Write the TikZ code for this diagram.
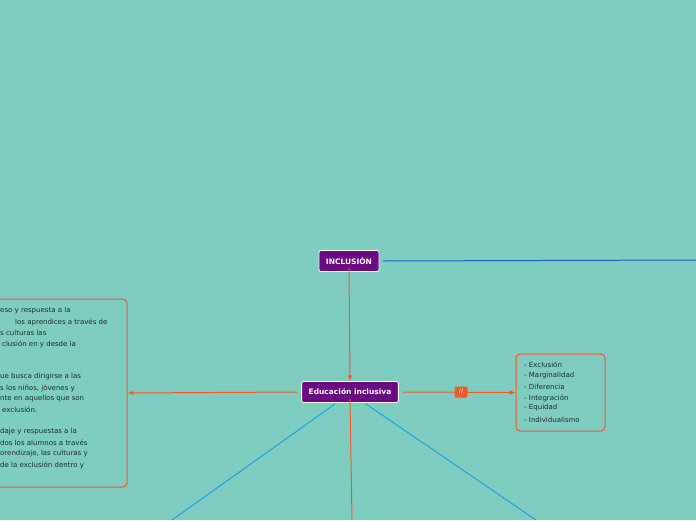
\documentclass[tikz,border=0pt]{standalone}
\usepackage{fontspec}
\setmainfont{DejaVu Sans}
\definecolor{bg}{HTML}{7ECDC0}
\definecolor{purp}{HTML}{6B0A82}
\definecolor{org}{HTML}{F05A28}
\definecolor{dblue}{HTML}{1565C0}
\definecolor{lblue}{HTML}{1AA3E8}
\definecolor{txt}{HTML}{1E2A2A}
\begin{document}
\begin{tikzpicture}[x=1pt,y=-1pt,
 main/.style={fill=purp,draw=white,line width=0.8pt,rounded corners=2pt,text=white,font=\fontsize{7.5}{9}\selectfont\bfseries,minimum height=21pt,inner xsep=7pt},
 obox/.style={draw=org,line width=1pt,rounded corners=4pt},
 oline/.style={org,line width=1pt},
 tl/.style={anchor=west,text=txt,font=\fontsize{7}{9}\selectfont,inner sep=0pt},
 >=latex]
\useasboundingbox (0,0) rectangle (696,520);
\clip (0,0) rectangle (696,520);
\fill[bg] (0,0) rectangle (696,520);
\node[main] (inc) at (349,261) {INCLUSIÓN};
\node[main] (edu) at (350,392) {Educación inclusiva};
\coordinate (r) at (696,260);
\coordinate (bl) at (172,520);
\coordinate (br) at (536,520);
\coordinate (bm) at (352,520);
\draw[dblue,line width=1pt] ([xshift=4pt]inc.east) -- (r);
\draw[oline,->] ([yshift=4pt]inc.south) -- (edu.north);
\draw[lblue,line width=1pt] (335,404) -- (bl);
\draw[lblue,line width=1pt] (366,404) -- (br);
\draw[oline] ([yshift=4pt]edu.south) -- (bm);
\node[obox,minimum width=257pt,minimum height=188pt] (lb) at (-1.5,393) {};
\node[obox,minimum width=89pt,minimum height=77pt] (rb) at (560.5,392.5) {};
\draw[oline,->] ([xshift=-4pt]edu.west) -- (lb.east);
\draw[oline,->] ([xshift=4pt]edu.east) -- (rb.west);
\node[fill=org,rounded corners=1pt,text=white,font=\fontsize{6}{7}\selectfont,inner sep=1.5pt,minimum width=13pt,minimum height=11pt] (bd) at (461,392) {//};
\node[tl] (r1) at (524,365) {- Exclusión};
\node[tl] (r2) at (524,376) {- Marginalidad};
\node[tl] (r3) at (524,387) {- Diferencia};
\node[tl] (r4) at (524,398) {- Integración};
\node[tl] (r5) at (524,408) {- Equidad};
\node[tl] (r6) at (524,420) {- Individualismo};
\node[tl] (l1) at (0,311) {eso y respuesta a la};
\node[tl] (l2) at (15,322) {los aprendices a través de};
\node[tl] (l3) at (0,333) {s culturas las};
\node[tl] (l4) at (2,344) {clusión en y desde la};
\node[tl] (l5) at (0,377) {ue busca dirigirse a las};
\node[tl] (l6) at (0,388) {s los niños, jóvenes y};
\node[tl] (l7) at (0,399) {nte en aquellos que son};
\node[tl] (l8) at (2,410) {exclusión.};
\node[tl] (l9) at (0,432) {daje y respuestas a la};
\node[tl] (l10) at (0,443) {dos los alumnos a través};
\node[tl] (l11) at (0,454) {orendizaje, las culturas y};
\node[tl] (l12) at (0,465) {de la exclusión dentro y};
\end{tikzpicture}
\end{document}
